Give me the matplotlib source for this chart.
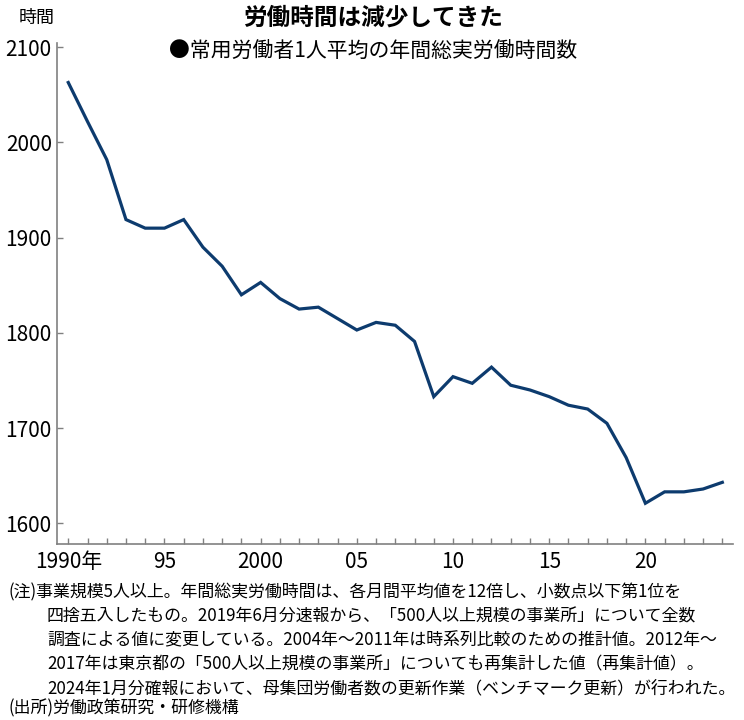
#!/usr/bin/env python3
"""Annual working hours per regular worker in Japan, 1990-2024."""

import matplotlib

matplotlib.use("Agg")
import matplotlib.pyplot as plt

plt.rcParams["font.family"] = ["Noto Sans CJK JP", "DejaVu Sans"]

# data
years = list(range(1990, 2025))
hours = [
    2063, 2022, 1982, 1919, 1910, 1910, 1919, 1890, 1870, 1840,
    1853, 1836, 1825, 1827, 1815, 1803, 1811, 1808, 1791, 1733,
    1754, 1747, 1764, 1745, 1740, 1733, 1724, 1720, 1705, 1669,
    1621, 1633, 1633, 1636, 1643,
]
xtick_pos = [1990, 1995, 2000, 2005, 2010, 2015, 2020]
xtick_labels = ["1990年", "95", "2000", "05", "10", "15", "20"]
ytick_pos = [1600, 1700, 1800, 1900, 2000, 2100]

title = "労働時間は減少してきた"
subtitle = "●常用労働者1人平均の年間総実労働時間数"
unit = "時間"
notes = [
    "(注)事業規模5人以上。年間総実労働時間は、各月間平均値を12倍し、小数点以下第1位を",
    "四捨五入したもの。2019年6月分速報から、「500人以上規模の事業所」について全数",
    "調査による値に変更している。2004年～2011年は時系列比較のための推計値。2012年～",
    "2017年は東京都の「500人以上規模の事業所」についても再集計した値（再集計値）。",
    "2024年1月分確報において、母集団労働者数の更新作業（ベンチマーク更新）が行われた。",
]
source = "(出所)労働政策研究・研修機構"

LINE = "#0d3b6e"
AXIS = "#808080"

W, H = 744, 720
fig = plt.figure(figsize=(W / 100, H / 100), dpi=100)
ax = fig.add_axes([57.3 / W, 1 - 544.3 / H, (733.3 - 57.3) / W, (544.3 - 43) / H])

ax.plot(years, hours, color=LINE, lw=2.3, solid_joinstyle="miter")

ax.set_xlim(1989.43, 2024.57)
ax.set_ylim(1577.9, 2104.5)

for side in ("top", "right"):
    ax.spines[side].set_visible(False)
for side in ("left", "bottom"):
    ax.spines[side].set_color(AXIS)
    ax.spines[side].set_linewidth(1.2)

ax.set_yticks(ytick_pos)
ax.set_yticklabels([str(v) for v in ytick_pos])
ax.set_xticks(xtick_pos)
ax.set_xticklabels(xtick_labels)
ax.set_xticks(years, minor=True)
ax.tick_params(axis="both", which="both", direction="in", length=4, width=1, color=AXIS)
ax.tick_params(axis="y", labelsize=15, pad=4)
ax.tick_params(axis="x", labelsize=15, pad=5)

fig.text(373 / W, 1 - 18 / H, title, ha="center", va="center", fontsize=17, fontweight="bold")
fig.text(373 / W, 1 - 52 / H, subtitle, ha="center", va="center", fontsize=15)
fig.text(55 / W, 1 - 18 / H, unit, ha="right", va="center", fontsize=13)

note_y = [592, 616, 640, 664, 688]
for i, (line, y) in enumerate(zip(notes, note_y)):
    x = 8 if i == 0 else 47
    fig.text(x / W, 1 - y / H, line, ha="left", va="center", fontsize=12.2)
fig.text(8 / W, 1 - 708 / H, source, ha="left", va="center", fontsize=12.2)

fig.savefig("out.png", dpi=100)
